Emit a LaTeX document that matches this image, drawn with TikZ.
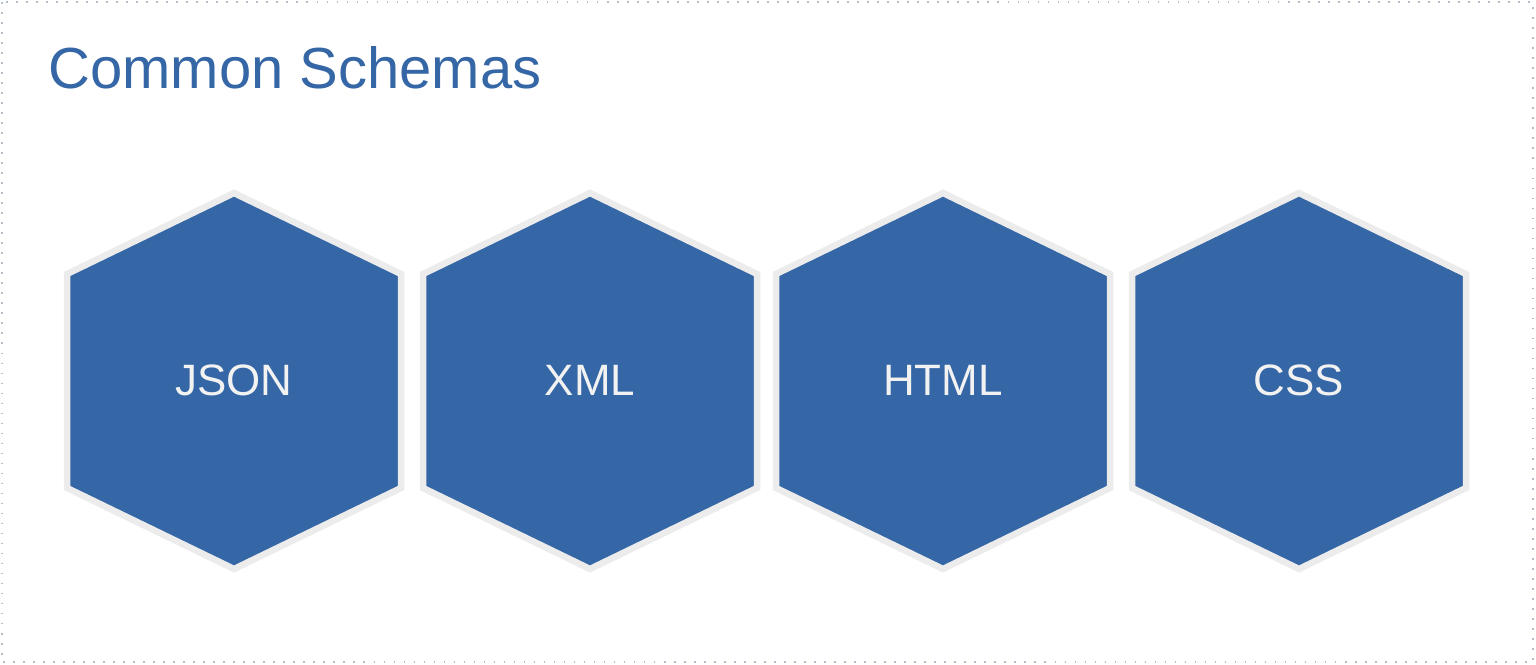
\documentclass[tikz,border=0pt]{standalone}
\usepackage{fontspec}
\setmainfont{Liberation Sans}
\definecolor{schemablue}{HTML}{3566A5}
\definecolor{hexrim}{HTML}{ECECEC}
\definecolor{labelwhite}{HTML}{F2F2F2}
\definecolor{dotgray}{HTML}{B4BDCA}
\begin{document}
\begin{tikzpicture}[x=0.02cm, y=-0.02cm,
    hexcell/.style={draw=hexrim, fill=schemablue, line width=3.7pt, line join=miter},
    hexlabel/.style={text=labelwhite, font=\fontsize{25}{29}\selectfont, inner sep=0pt}]
  \useasboundingbox (0,0) rectangle (1536,665);
  \draw[dotgray, line width=0.9pt, dash pattern=on 0.9pt off 4.8pt] (2,2) rectangle (1533,662);
  \node[anchor=base west, inner sep=0pt, text=schemablue, font=\fontsize{33}{38}\selectfont] (title) at (48,89) {Common Schemas};
  \foreach \name/\txt/\cx in {json/JSON/234, xml/XML/590, html/HTML/943, css/CSS/1299} {
    \draw[hexcell] (\cx,193) -- (\cx+167,274) -- (\cx+167,488) -- (\cx,569)
      -- (\cx-167,488) -- (\cx-167,274) -- cycle;
    \node[hexlabel] (\name) at (\cx,380) {\txt};
  }
\end{tikzpicture}
\end{document}
